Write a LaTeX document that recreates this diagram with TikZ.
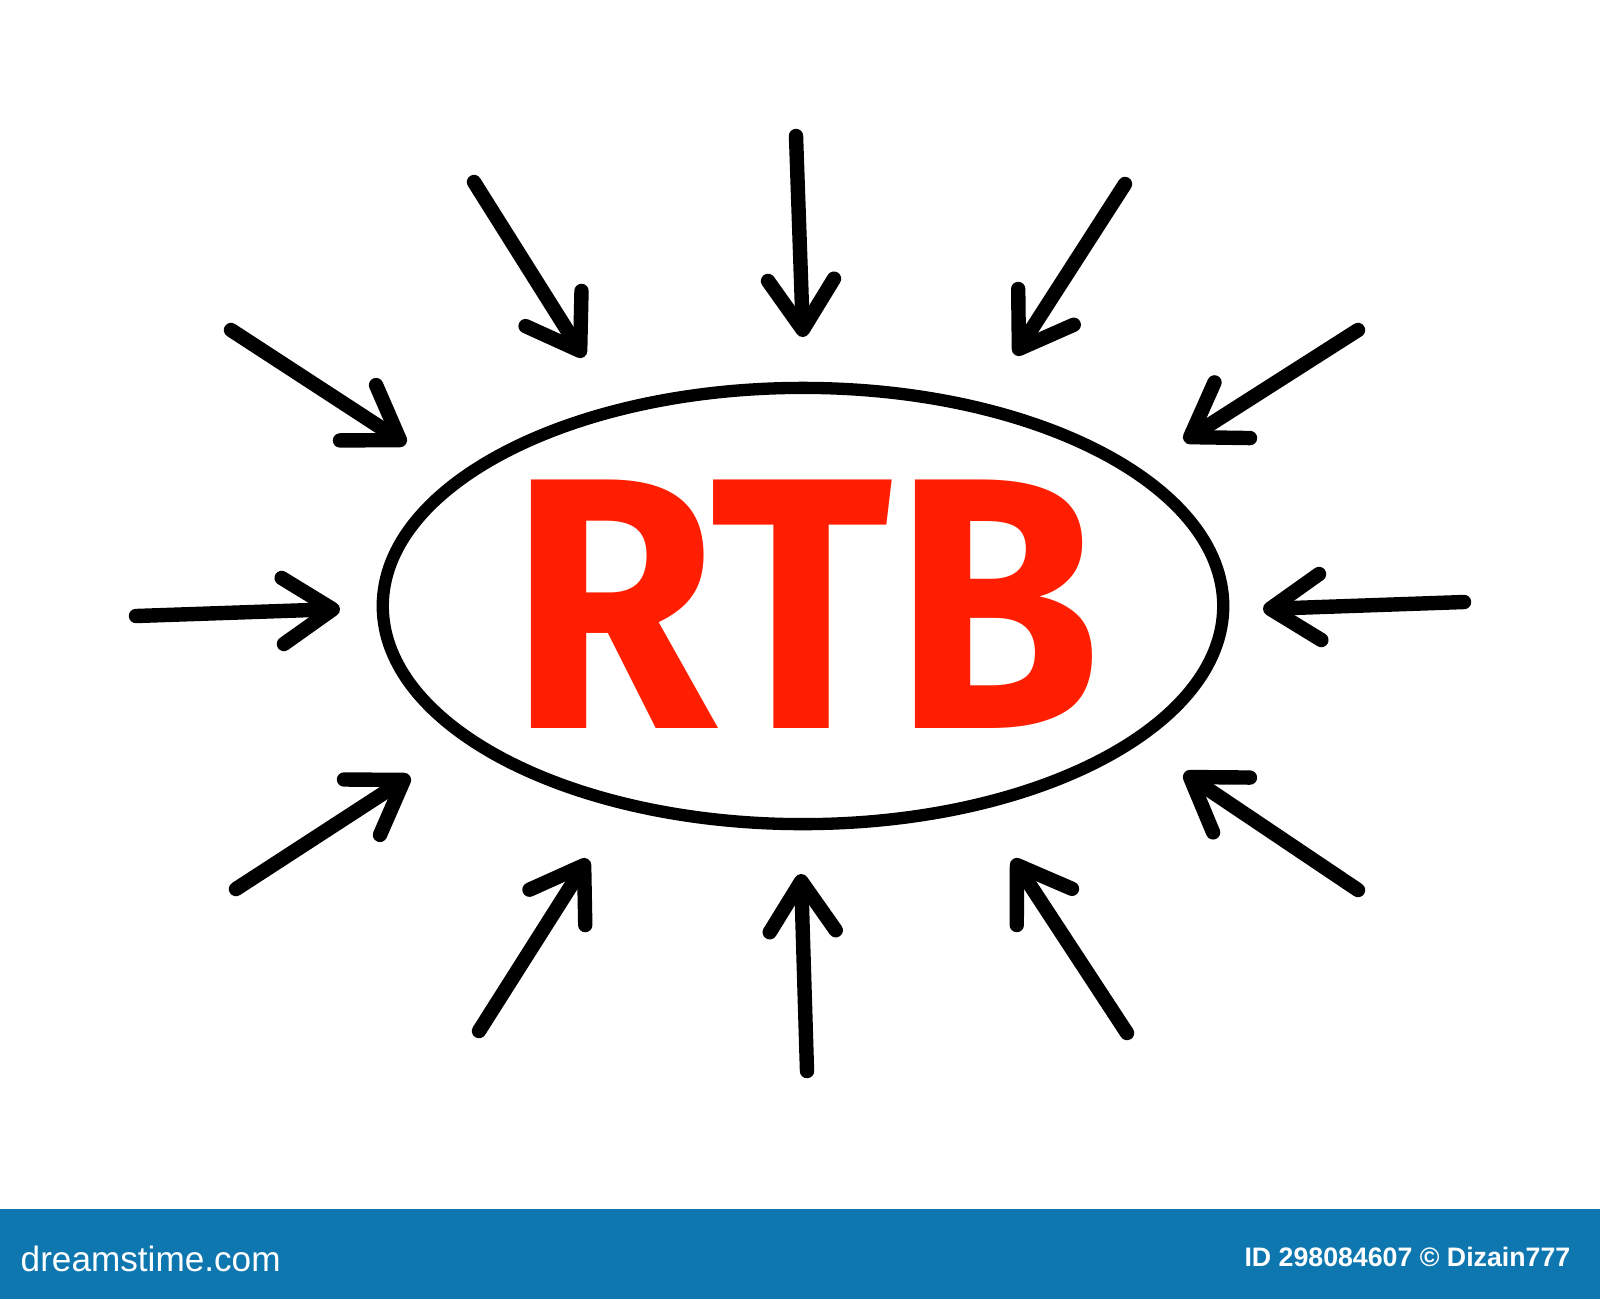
\documentclass[tikz,border=0pt]{standalone}
\usepackage{fontspec}
\setmainfont{Fira Sans}
\newfontfamily\barfont{Liberation Sans}
\usetikzlibrary{arrows.meta,shapes.geometric}
\definecolor{rtbred}{HTML}{FF1E00}
\definecolor{stockblue}{HTML}{0E77B0}

\begin{document}
\begin{tikzpicture}[x=0.01cm, y=-0.01cm,
    pointer/.style={line width=4.1pt, line cap=round, -{Straight Barb[length=5mm, width=6.6mm, round]}}]
    \useasboundingbox (0,0) rectangle (1600,1299);

    % Draw the ellipse
    \node[draw, ellipse, line width=3.5pt, minimum width=8.4cm, minimum height=4.36cm] (rtb) at (803,606) {};

    % Draw the label
    \node[text=rtbred, font=\bfseries\fontsize{102}{102}\selectfont, inner sep=0pt] (label) at (805,604) {\scalebox{0.94}[1]{RTB}};

    % Draw the arrows
    \foreach \tx/\ty/\hx/\hy [count=\i] in {796/136/803/337, 474/182/584/357, 231/330/406/444,
        136/616/340/609, 236/889/410/776, 479/1031/588/859, 807/1071/801/874, 1127/1033/1013/859,
        1358/890/1184/773, 1464/602/1263/609, 1358/330/1184/441, 1125/184/1015/355} {
        \coordinate (tail\i) at (\tx,\ty);
        \coordinate (tip\i) at (\hx,\hy);
        \draw[pointer] (tail\i) -- (tip\i);
    }

    % Draw the footer bar
    \fill[stockblue] (0,1209) rectangle (1600,1299);
    \node[anchor=west, text=white, inner sep=0pt, font=\barfont\fontsize{10}{12}\selectfont] (site) at (20,1259) {dreamstime.com};
    \node[anchor=east, text=white, inner sep=0pt, font=\barfont\bfseries\fontsize{7.6}{9}\selectfont] (credit) at (1571,1257) {ID 298084607 © Dizain777};

\end{tikzpicture}
\end{document}
